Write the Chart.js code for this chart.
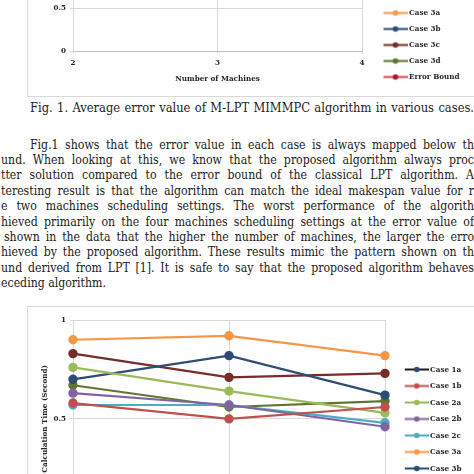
<!DOCTYPE html>
<html>
<head>
<meta charset="utf-8">
<script src="https://cdn.jsdelivr.net/npm/chart.js@4.4.1/dist/chart.umd.min.js"></script>
<style>
html, body { margin: 0; padding: 0; background: #fff; }
body { width: 474px; height: 474px; overflow: hidden; position: relative; }
.frame { position: absolute; border: 1px solid #d9d9d9; background: #fff; box-sizing: border-box; }
.frame canvas { display: block; }
.ln { position: absolute; height: 15px; line-height: 15px; font-family: "DejaVu Serif Condensed", "DejaVu Serif", serif;
      font-size: 12.2px; color: #1c1c1c; white-space: nowrap; text-align: justify; text-align-last: justify; overflow: hidden; }
.cap { font-size: 12.8px; }
.end { text-align: left; text-align-last: left; }
</style>
</head>
<body>

<div class="frame" id="topFrame" style="left:27px; top:-87px; width:451px; height:184px;"><canvas id="errChart"></canvas></div>

<div class="ln cap" style="left:30px; top:100px; width:444px;">Fig. 1. Average error value of M-LPT MIMMPC algorithm in various cases.</div>

<div class="ln" style="left:30px; top:138px; width:444px;">Fig.1 shows that the error value in each case is always mapped below th</div>
<div class="ln" style="left:1px; top:153px; width:473px;">und. When looking at this, we know that the proposed algorithm always proc</div>
<div class="ln" style="left:1px; top:168px; width:473px;">tter solution compared to the error bound of the classical LPT algorithm. A</div>
<div class="ln" style="left:1px; top:184px; width:473px;">teresting result is that the algorithm can match the ideal makespan value for r</div>
<div class="ln" style="left:1px; top:199px; width:473px;">e two machines scheduling settings. The worst performance of the algorith</div>
<div class="ln" style="left:1px; top:215px; width:473px;">hieved primarily on the four machines scheduling settings at the error value of</div>
<div class="ln" style="left:4px; top:230px; width:470px;">shown in the data that the higher the number of machines, the larger the erro</div>
<div class="ln" style="left:1px; top:245px; width:473px;">hieved by the proposed algorithm. These results mimic the pattern shown on th</div>
<div class="ln" style="left:1px; top:261px; width:473px;">und derived from LPT [1]. It is safe to say that the proposed algorithm behaves</div>
<div class="ln end" style="left:1px; top:276px; width:200px;">eceding algorithm.</div>

<div class="frame" id="bottomFrame" style="left:27px; top:306px; width:454px; height:258px;"><canvas id="timeChart"></canvas></div>

<script>
// x categories (number of machines)
var machines = ['2', '3', '4'];

// Fig. 1 - error values (plot lines are outside the visible crop)
var errorNames = ['Case 1a', 'Case 1b', 'Case 2a', 'Case 2b', 'Case 2c',
                  'Case 3a', 'Case 3b', 'Case 3c', 'Case 3d', 'Error Bound'];

// Fig. 2 - calculation time (second)
var timeNames = ['Case 1a', 'Case 1b', 'Case 2a', 'Case 2b', 'Case 2c',
                 'Case 3a', 'Case 3b', 'Case 3c', 'Case 3d'];
var timeCase1a = [null, null, null];
var timeCase1b = [0.58, 0.50, 0.56];
var timeCase2a = [0.76, 0.64, 0.53];
var timeCase2b = [0.63, 0.57, 0.46];
var timeCase2c = [0.57, 0.57, 0.48];
var timeCase3a = [0.90, 0.92, 0.82];
var timeCase3b = [0.70, 0.82, 0.62];
var timeCase3c = [0.83, 0.71, 0.73];
var timeCase3d = [0.67, 0.56, 0.59];
var timeValues = [timeCase1a, timeCase1b, timeCase2a, timeCase2b, timeCase2c,
                  timeCase3a, timeCase3b, timeCase3c, timeCase3d];

var lineColors = ['#1a1a1a', '#C0504D', '#9BBB59', '#8064A2', '#4BACC6',
                  '#F79646', '#2C4D75', '#772C2A', '#5F7530', '#D9434E'];
var dotColors  = ['#2C4D75', '#C0504D', '#9BBB59', '#8064A2', '#4BACC6',
                  '#F79646', '#2C4D75', '#772C2A', '#5F7530', '#A11D2B'];

var FONT = '"DejaVu Serif Condensed", "DejaVu Serif", serif';
var FS = 8;
var INK = '#262626';
var GRID = '#d9d9d9';

// little "line with a dot" legend key, like the office chart
function legendKey(line, dot, w, x0) {
  var c = document.createElement('canvas');
  c.width = Math.round(w);
  c.height = 9;
  var g = c.getContext('2d');
  g.strokeStyle = line;
  g.lineWidth = 2;
  g.beginPath();
  g.moveTo(x0, 4.5);
  g.lineTo(c.width, 4.5);
  g.stroke();
  g.fillStyle = dot;
  g.beginPath();
  g.arc((x0 + c.width) / 2, 4.5, 2.8, 0, Math.PI * 2);
  g.fill();
  return c;
}

// width chart.js will give the right legend, so the plot edge lands where wanted
function legendWidth(names, s) {
  var ctx = document.createElement('canvas').getContext('2d');
  ctx.font = 'bold ' + FS + 'px ' + FONT;
  var w = 0;
  names.forEach(function (n) { w = Math.max(w, ctx.measureText(n).width); });
  return s.legendPad + s.keyW + FS / 2 + w + 10;
}

function makeDatasets(names, values) {
  return names.map(function (name, i) {
    return {
      label: name,
      data: values ? values[i] : [],
      borderColor: lineColors[i],
      backgroundColor: dotColors[i],
      pointBackgroundColor: dotColors[i],
      pointBorderColor: dotColors[i],
      borderWidth: 2.2,
      pointRadius: 3.6,
      pointHoverRadius: 3.6,
      tension: 0
    };
  });
}

// s: layout settings for each figure
function options(names, s) {
  var font = { family: FONT, size: FS, weight: 'bold' };
  var padRight = s.innerW - s.plotRight - legendWidth(names, s);
  return {
    responsive: true,
    maintainAspectRatio: false,
    animation: false,
    layout: { padding: { top: s.padTop, bottom: s.padBottom, left: 0, right: padRight } },
    plugins: {
      tooltip: { enabled: false },
      // empty title only used as top spacer (does not shrink the legend)
      title: { display: true, text: '', fullSize: false, font: { size: 1, lineHeight: 1 },
               padding: { top: s.topGap / 2, bottom: s.topGap / 2 - 1 } },
      legend: {
        position: 'right',
        labels: {
          usePointStyle: true,
          pointStyleWidth: s.keyW,
          padding: s.legendPad,
          color: INK,
          font: font,
          generateLabels: function (chart) {
            var items = Chart.defaults.plugins.legend.labels.generateLabels(chart);
            items.forEach(function (it) {
              var ds = chart.data.datasets[it.datasetIndex];
              it.pointStyle = legendKey(ds.borderColor, ds.pointBackgroundColor, s.keyW + 5, s.keyX0);
            });
            return items;
          }
        }
      }
    },
    scales: {
      x: {
        offset: false,
        grid: { color: GRID, tickLength: 3 },
        border: { color: '#bfbfbf' },
        ticks: { color: INK, padding: 4, maxRotation: 0, font: font },
        title: { display: true, text: 'Number of Machines', color: INK,
                 padding: { top: 2.6, bottom: s.xTitleBottom }, font: font }
      },
      y: {
        min: 0,
        max: s.yMax,
        afterFit: function (scale) { scale.width = 45; },
        grid: { color: GRID, tickLength: 3 },
        border: { color: GRID },
        ticks: { stepSize: 0.5, color: INK, padding: 4, font: font,
                 callback: function (v) { return String(v); } },
        title: { display: !!s.yTitle, text: s.yTitle, color: INK,
                 padding: { top: 12.2, bottom: 0 }, font: font }
      }
    }
  };
}

new Chart(document.getElementById('errChart'), {
  type: 'line',
  data: { labels: machines, datasets: makeDatasets(errorNames, null) },
  options: options(errorNames, { yMax: 1.5, yTitle: '', innerW: 449, plotRight: 334, padTop: 0, padBottom: 0,
                                 topGap: 9, xTitleBottom: 12.2, legendPad: 8, keyW: 35, keyX0: 16 })
});

new Chart(document.getElementById('timeChart'), {
  type: 'line',
  data: { labels: machines, datasets: makeDatasets(timeNames, timeValues) },
  options: options(timeNames, { yMax: 1, yTitle: 'Calculation Time (Second)', innerW: 452, plotRight: 357,
                                padTop: 12, padBottom: 11, topGap: 1, xTitleBottom: 1.5,
                                legendPad: 8.5, keyW: 32.5, keyX0: 14 })
});
</script>
</body>
</html>
